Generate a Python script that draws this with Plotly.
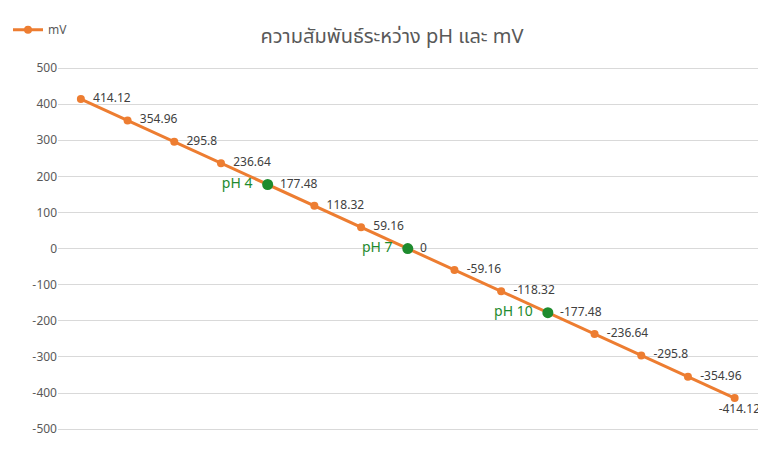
import plotly.graph_objects as go

ph = list(range(15))
mv = [414.12, 354.96, 295.8, 236.64, 177.48, 118.32, 59.16, 0,
      -59.16, -118.32, -177.48, -236.64, -295.8, -354.96, -414.12]
labels = ["414.12", "354.96", "295.8", "236.64", "177.48", "118.32", "59.16", "0",
          "-59.16", "-118.32", "-177.48", "-236.64", "-295.8", "-354.96", "-414.12"]
mark_ph = [4, 7, 10]
mark_names = ["pH 4", "pH 7", "pH 10"]

orange = "#ED7D31"
font = "Noto Sans Thai, Noto Sans, Open Sans, sans-serif"

positions = ["middle right"] * 14 + ["bottom center"]
texts = ["  " + t for t in labels[:-1]] + ["   " + labels[-1]]

fig = go.Figure()
fig.add_trace(go.Scatter(
    x=ph, y=mv, mode="lines+markers+text", name="mV",
    line=dict(color=orange, width=3), marker=dict(color=orange, size=8),
    text=texts, textposition=positions,
    textfont=dict(size=12, color="#404040"),
))
fig.add_trace(go.Scatter(
    x=mark_ph, y=[mv[i] for i in mark_ph], mode="markers+text", showlegend=False,
    marker=dict(color="#1E8B2E", size=11),
    text=[n + "  " for n in mark_names], textposition="middle left",
    textfont=dict(size=14, color="#1E8B2E"),
))
fig.update_layout(
    width=768, height=476, paper_bgcolor="white", plot_bgcolor="white",
    margin=dict(l=50, r=18, t=55, b=26, autoexpand=False),
    font=dict(family=font, color="#595959"),
    title=dict(text="ความสัมพันธ์ระหว่าง pH และ mV", x=0.5, y=0.955,
               xanchor="center", font=dict(size=20, color="#595959")),
    legend=dict(x=0.0, y=0.985, xref="container", yref="container",
                xanchor="left", yanchor="top", font=dict(size=12)),
    xaxis=dict(range=[-0.49, 14.5], showticklabels=False, showgrid=False,
               zeroline=False, showline=False),
    yaxis=dict(range=[-580, 514], tickvals=list(range(-500, 501, 100)),
               gridcolor="#D9D9D9", zeroline=False, tickfont=dict(size=12, color="#595959")),
)
fig.write_html("out.html")
